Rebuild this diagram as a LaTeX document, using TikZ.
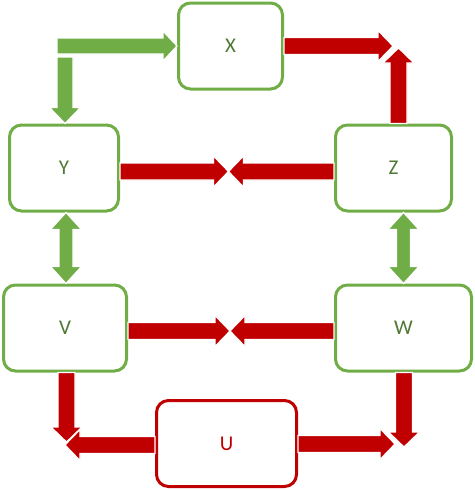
\documentclass[tikz,border=0pt]{standalone}
\usepackage{fontspec}
\setmainfont{Carlito}
\usetikzlibrary{calc}
\definecolor{gr}{HTML}{70AD47}
\definecolor{rd}{HTML}{C00000}
\definecolor{tg}{HTML}{4F7A35}
% single block arrow: from, to (tip), colour, shaft half width, head half width, head length
\newcommand\blockarr[6]{%
  \filldraw[fill=#3, draw=white, line width=1.2pt, line join=miter]
    ($(#1)!#4!90:(#2)$) -- ($(#2)!#6!(#1)!#4!-90:(#1)$) -- ($(#2)!#6!(#1)!#5!-90:(#1)$)
    -- (#2) -- ($(#2)!#6!(#1)!#5!90:(#1)$) -- ($(#2)!#6!(#1)!#4!90:(#1)$)
    -- ($(#1)!#4!-90:(#2)$) -- cycle;}
% double block arrow: tip A, tip B, colour, shaft half width, head half width, head length
\newcommand\dblarr[6]{%
  \filldraw[fill=#3, draw=white, line width=1.2pt, line join=miter]
    (#1) -- ($(#1)!#6!(#2)!#5!90:(#2)$) -- ($(#1)!#6!(#2)!#4!90:(#2)$)
    -- ($(#2)!#6!(#1)!#4!-90:(#1)$) -- ($(#2)!#6!(#1)!#5!-90:(#1)$) -- (#2)
    -- ($(#2)!#6!(#1)!#5!90:(#1)$) -- ($(#2)!#6!(#1)!#4!90:(#1)$)
    -- ($(#1)!#6!(#2)!#4!-90:(#2)$) -- ($(#1)!#6!(#2)!#5!-90:(#2)$) -- cycle;}
\tikzset{
  box/.style={draw=gr, line width=3pt, rounded corners=12pt, minimum height=86pt,
    fill=white, text=tg, font=\fontsize{21}{24}\selectfont, inner sep=0pt},
  redbox/.style={box, draw=rd, text=rd}
}
\begin{document}
\begin{tikzpicture}[x=1pt,y=-1pt]
\useasboundingbox (0,0) rectangle (474,490);
% boxes
\node[box, minimum width=104pt] (X) at (230.5,46) {X};
\node[box, minimum width=109pt] (Y) at (64,168) {Y};
\node[box, minimum width=116pt] (Z) at (393.5,168) {Z};
\node[box, minimum width=123pt] (V) at (65,328) {V};
\node[box, minimum width=136pt] (W) at (403.5,328) {W};
\node[redbox, minimum width=140pt] (U) at (226.5,443.5) {U};
% helper coordinates
\coordinate (g0) at (57,46);
\coordinate (g1) at (65,57);
\coordinate (yN) at (g1 |- Y.north);
\coordinate (m1) at (228.5,171.5);
\coordinate (y1) at (Y.east |- m1);
\coordinate (z1) at (Z.west |- m1);
\coordinate (c2) at (393,46);
\coordinate (x1) at (X.east |- c2);
\coordinate (c3) at (398.5,48);
\coordinate (z2) at (c3 |- Z.north);
\coordinate (d1) at (66,250);
\coordinate (yS) at (Y.south -| d1);
\coordinate (vN) at (V.north -| d1);
\coordinate (d2) at (403.5,250);
\coordinate (zS) at (Z.south -| d2);
\coordinate (wN) at (W.north -| d2);
\coordinate (m2) at (230,331);
\coordinate (v1) at (V.east |- m2);
\coordinate (w1) at (W.west |- m2);
\coordinate (c4) at (66.5,442);
\coordinate (v2) at (c4 |- V.south);
\coordinate (c5) at (65,445);
\coordinate (u1) at (U.west |- c5);
\coordinate (c6) at (404,447);
\coordinate (w2) at (c6 |- W.south);
\coordinate (c7) at (395,444);
\coordinate (u2) at (U.east |- c7);
% green arrows
\blockarr{g0}{X.west}{gr}{8pt}{15pt}{14pt}
\blockarr{g1}{yN}{gr}{8pt}{15.5pt}{16pt}
\dblarr{yS}{vN}{gr}{7pt}{15.5pt}{17pt}
\dblarr{zS}{wN}{gr}{7pt}{15.5pt}{17pt}
% red arrows
\blockarr{y1}{m1}{rd}{8.5pt}{15.5pt}{15pt}
\blockarr{z1}{m1}{rd}{8.5pt}{15.5pt}{15pt}
\blockarr{x1}{c2}{rd}{8.5pt}{15.5pt}{15pt}
\blockarr{z2}{c3}{rd}{8.5pt}{15.5pt}{15pt}
\blockarr{v1}{m2}{rd}{8.5pt}{15.5pt}{15pt}
\blockarr{w1}{m2}{rd}{8.5pt}{15.5pt}{15pt}
\blockarr{v2}{c4}{rd}{8.5pt}{15.5pt}{15pt}
\blockarr{u1}{c5}{rd}{8.5pt}{15.5pt}{15pt}
\blockarr{w2}{c6}{rd}{8.5pt}{15.5pt}{15pt}
\blockarr{u2}{c7}{rd}{8.5pt}{15.5pt}{15pt}
\end{tikzpicture}
\end{document}
